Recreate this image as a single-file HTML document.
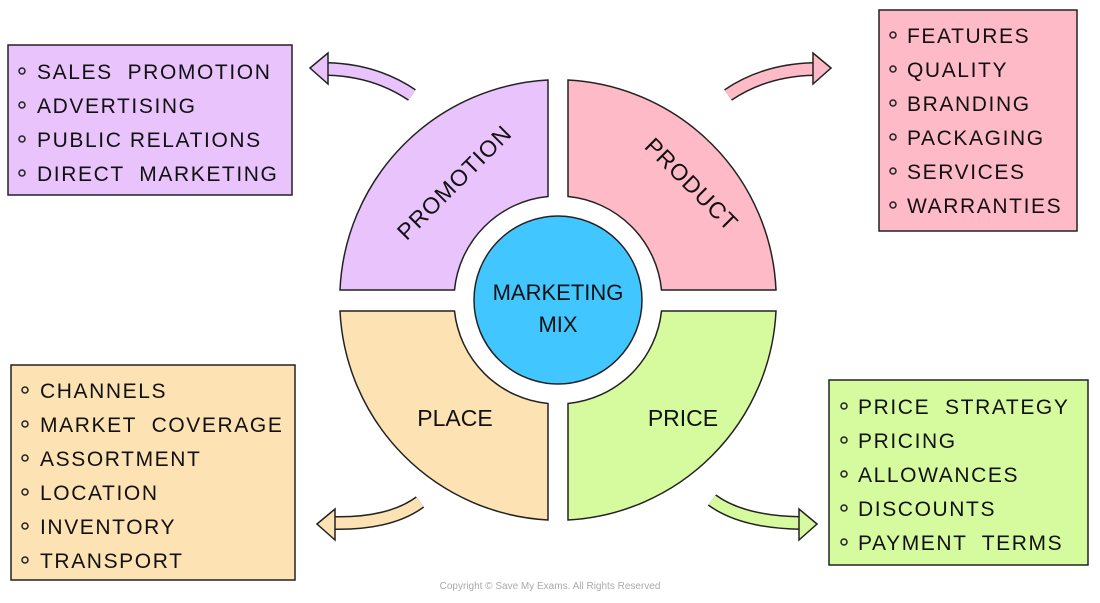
<!DOCTYPE html>
<html><head><meta charset="utf-8"><style>
body{margin:0;background:#fff;width:1100px;height:598px;overflow:hidden}
svg text{font-family:"Liberation Sans",sans-serif;fill:#111;white-space:pre}
</style></head><body>
<svg width="1100" height="598" viewBox="0 0 1100 598" xmlns="http://www.w3.org/2000/svg">
<g stroke="#222" stroke-width="1.5">
<path d="M548,80 A220,220 0 0 0 340,290 L454.5,290 A104,104 0 0 1 548,196.5 Z" fill="#e9c3fb"/>
<path d="M568,80 A220,220 0 0 1 776,290 L661.5,290 A104,104 0 0 0 568,196.5 Z" fill="#ffbac7"/>
<path d="M548,520 A220,220 0 0 1 340,311 L454.5,311 A104,104 0 0 0 548,403.5 Z" fill="#fde2b3"/>
<path d="M568,520 A220,220 0 0 0 776,311 L661.5,311 A104,104 0 0 1 568,403.5 Z" fill="#d6fb9f"/>
<circle cx="558" cy="300" r="84" fill="#42c6ff"/>
</g>
<text x="558" y="300" font-size="22" text-anchor="middle">MARKETING</text>
<text x="558" y="332" font-size="22" text-anchor="middle">MIX</text>
<text font-size="23" text-anchor="middle" transform="translate(460,188) rotate(-45)" letter-spacing="1">PROMOTION</text>
<text font-size="23" text-anchor="middle" transform="translate(686,190) rotate(45)" letter-spacing="1">PRODUCT</text>
<text x="455" y="426" font-size="23" text-anchor="middle">PLACE</text>
<text x="683" y="426" font-size="23" text-anchor="middle">PRICE</text>
<!-- arrows -->
<g>
<path d="M412,95 Q375,70 327,69" fill="none" stroke="#222" stroke-width="14"/>
<path d="M412,95 Q375,70 327,69" fill="none" stroke="#e9c3fb" stroke-width="11"/>
<polygon points="310,68 328,53 328,84" fill="#e9c3fb" stroke="#222" stroke-width="1.5"/>
<path d="M728,95 Q765,70 814,69" fill="none" stroke="#222" stroke-width="14"/>
<path d="M728,95 Q765,70 814,69" fill="none" stroke="#ffbac7" stroke-width="11"/>
<polygon points="831,68 813,53 813,84" fill="#ffbac7" stroke="#222" stroke-width="1.5"/>
<path d="M420,502 Q390,524 334,523" fill="none" stroke="#222" stroke-width="14"/>
<path d="M420,502 Q390,524 334,523" fill="none" stroke="#fde2b3" stroke-width="11"/>
<polygon points="317,524 335,509 335,540" fill="#fde2b3" stroke="#222" stroke-width="1.5"/>
<path d="M712,500 Q742,522 800,523" fill="none" stroke="#222" stroke-width="14"/>
<path d="M712,500 Q742,522 800,523" fill="none" stroke="#d6fb9f" stroke-width="11"/>
<polygon points="817,524 799,509 799,540" fill="#d6fb9f" stroke="#222" stroke-width="1.5"/>
</g>
<!-- boxes -->
<g stroke="#222" stroke-width="1.5">
<rect x="8" y="45" width="284" height="150" fill="#e9c3fb"/>
<rect x="879" y="10" width="198" height="221" fill="#ffbac7"/>
<rect x="11" y="365" width="284" height="215" fill="#fde2b3"/>
<rect x="829" y="380" width="259" height="185" fill="#d6fb9f"/>
</g>
<g font-size="21" letter-spacing="1.6">
<text x="37" y="79">SALES  PROMOTION</text>
<text x="37" y="113">ADVERTISING</text>
<text x="37" y="147">PUBLIC RELATIONS</text>
<text x="37" y="181">DIRECT  MARKETING</text>
<text x="907" y="43">FEATURES</text>
<text x="907" y="77">QUALITY</text>
<text x="907" y="111">BRANDING</text>
<text x="907" y="145">PACKAGING</text>
<text x="907" y="179">SERVICES</text>
<text x="907" y="213">WARRANTIES</text>
<text x="40" y="398">CHANNELS</text>
<text x="40" y="432">MARKET  COVERAGE</text>
<text x="40" y="466">ASSORTMENT</text>
<text x="40" y="500">LOCATION</text>
<text x="40" y="534">INVENTORY</text>
<text x="40" y="568">TRANSPORT</text>
<text x="858" y="414">PRICE  STRATEGY</text>
<text x="858" y="448">PRICING</text>
<text x="858" y="482">ALLOWANCES</text>
<text x="858" y="516">DISCOUNTS</text>
<text x="858" y="550">PAYMENT  TERMS</text>
</g>
<g fill="none" stroke="#222" stroke-width="1.5">
<circle cx="22" cy="71" r="3"/><circle cx="22" cy="105" r="3"/><circle cx="22" cy="139" r="3"/><circle cx="22" cy="173" r="3"/>
<circle cx="893" cy="35" r="3"/><circle cx="893" cy="69" r="3"/><circle cx="893" cy="103" r="3"/><circle cx="893" cy="137" r="3"/><circle cx="893" cy="171" r="3"/><circle cx="893" cy="205" r="3"/>
<circle cx="25" cy="390" r="3"/><circle cx="25" cy="424" r="3"/><circle cx="25" cy="458" r="3"/><circle cx="25" cy="492" r="3"/><circle cx="25" cy="526" r="3"/><circle cx="25" cy="560" r="3"/>
<circle cx="844" cy="406" r="3"/><circle cx="844" cy="440" r="3"/><circle cx="844" cy="474" r="3"/><circle cx="844" cy="508" r="3"/><circle cx="844" cy="542" r="3"/>
</g>
<text x="550" y="589" font-size="10" text-anchor="middle" style="fill:#aaa">Copyright © Save My Exams. All Rights Reserved</text>
</svg>
</body></html>
